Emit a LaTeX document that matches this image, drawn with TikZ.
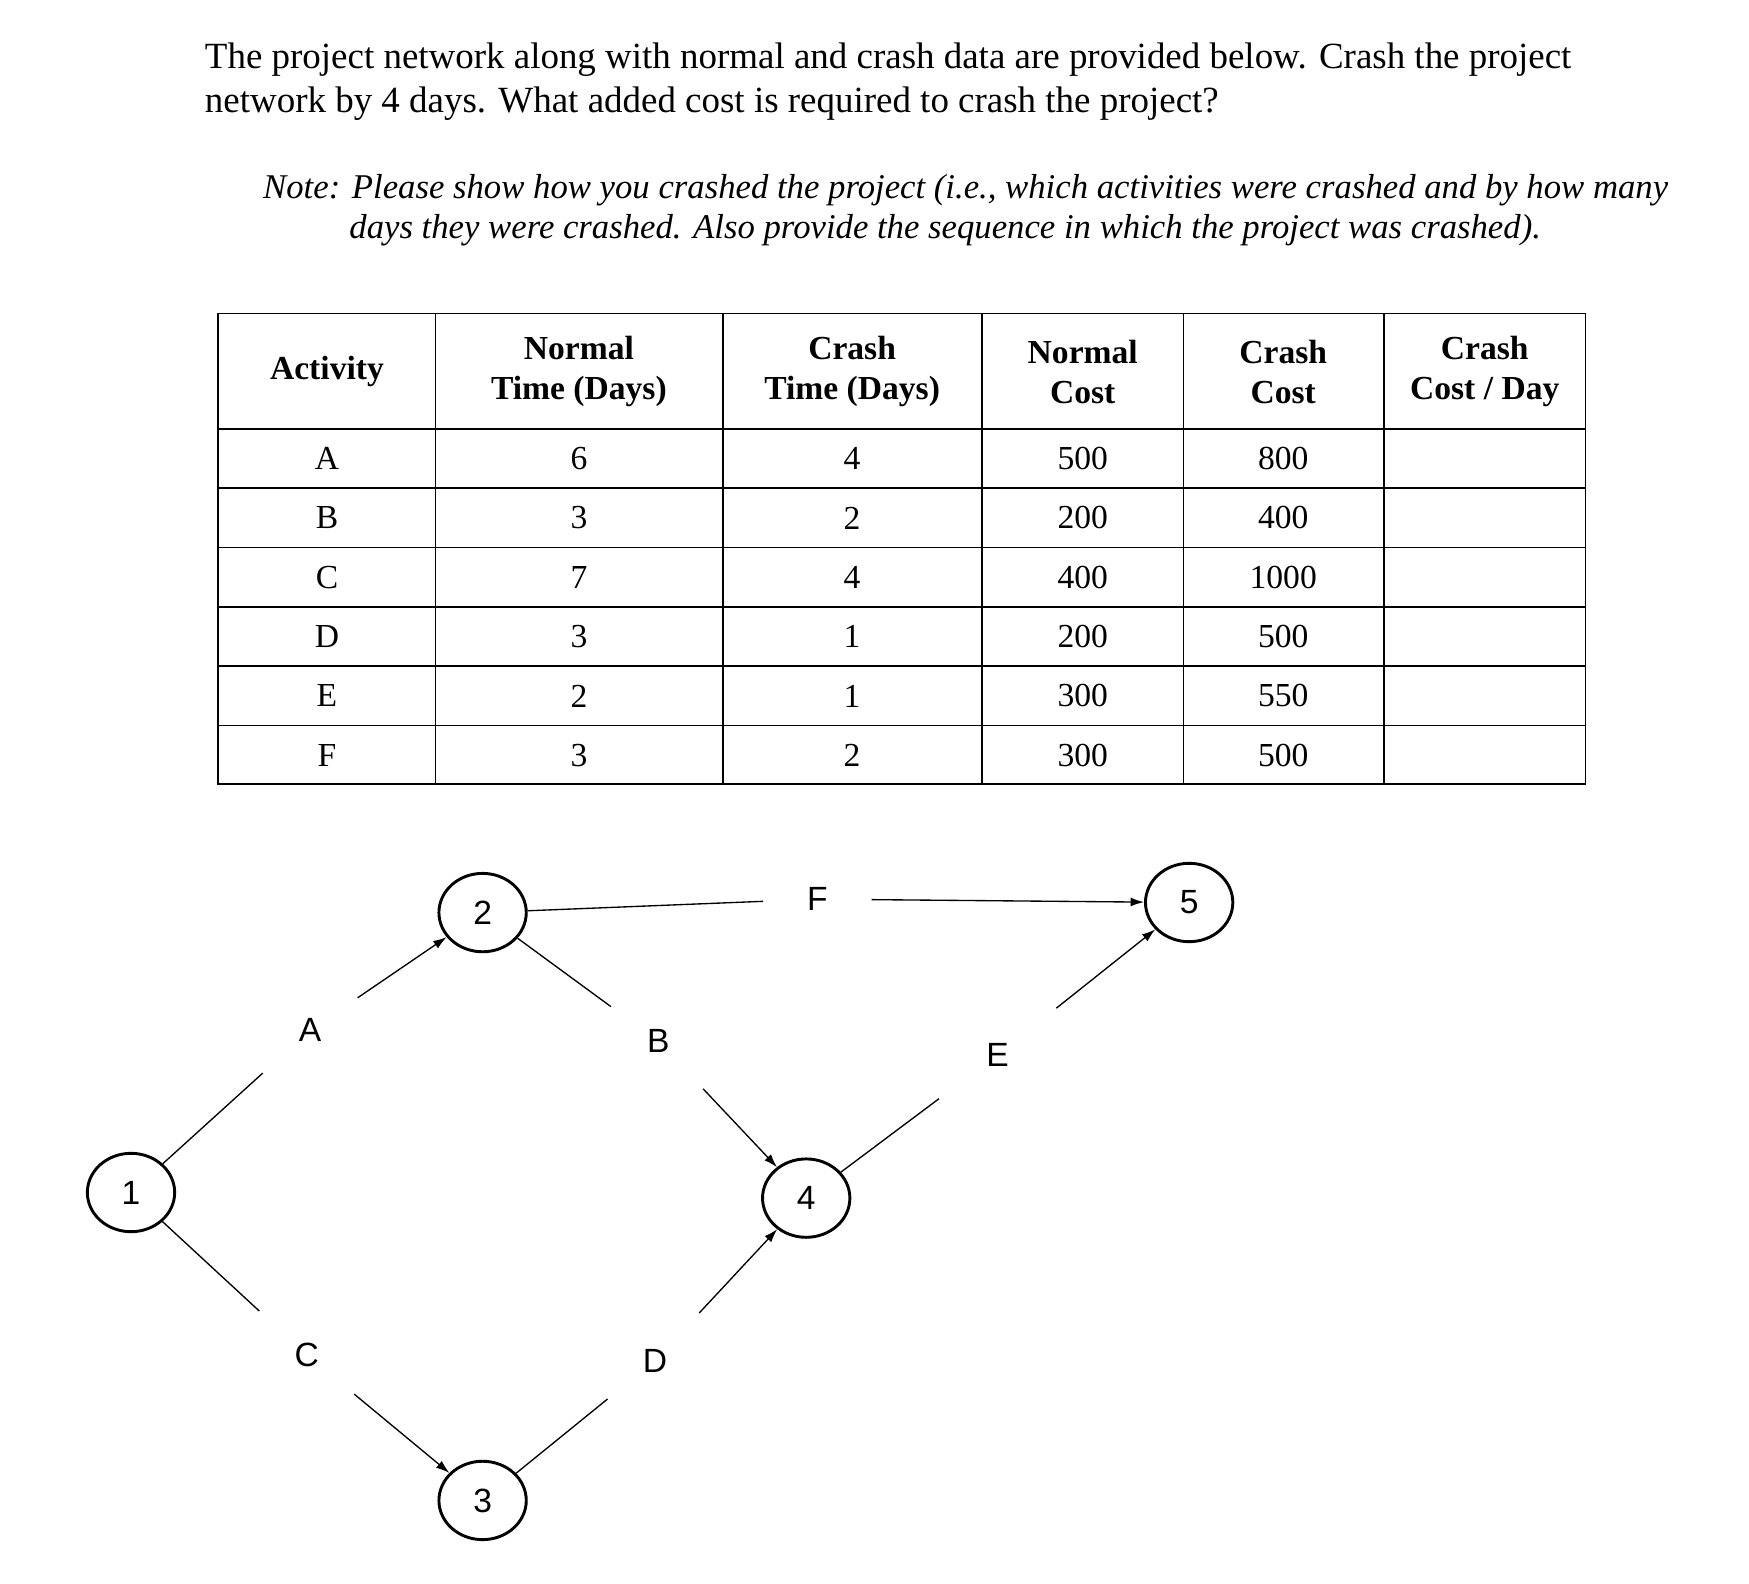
\documentclass[tikz,border=0pt]{standalone}
\usepackage{fontspec}
\setmainfont{Liberation Serif}
\newfontfamily\arial{Liberation Sans}
\usetikzlibrary{arrows.meta,shapes.geometric}
\begin{document}
\begin{tikzpicture}[x=0.5pt,y=-0.5pt,
  ev/.style={draw,line width=1.3pt,ellipse,minimum width=39pt,minimum height=35pt,inner sep=0pt,font=\arial\fontsize{15}{15}\selectfont},
  lab/.style={inner sep=0pt,minimum size=42pt,font=\arial\fontsize{15}{15}\selectfont},
  edge/.style={line width=0.6pt},
  arr/.style={edge,-{Latex[length=6pt,width=4pt]}},
  cell/.style={font=\fontsize{15}{17}\selectfont,align=center}]
\useasboundingbox (0,0) rectangle (1562,1414);
\node[anchor=west,font=\fontsize{16.5}{20}\selectfont] (t1) at (176,53) {The project network along with normal and crash data are provided below. Crash the project};
\node[anchor=west,font=\fontsize{16.5}{20}\selectfont] (t2) at (176,93) {network by 4 days. What added cost is required to crash the project?};
\node[anchor=west,font=\itshape\fontsize{15.5}{19}\selectfont] (n1) at (228,170) {Note: Please show how you crashed the project (i.e., which activities were crashed and by how many};
\node[anchor=west,font=\itshape\fontsize{15.5}{19}\selectfont] (n2) at (305,206) {days they were crashed. Also provide the sequence in which the project was crashed).};
% table
\draw[line width=0.8pt] (195,280) rectangle (1416,700);
\foreach \x in {389,646,877,1057,1236} \draw[line width=0.8pt] (\x,280) -- (\x,700);
\foreach \y in {383,436,489,542,595,648} \draw[line width=0.8pt] (195,\y) -- (1416,\y);
\foreach \t/\x in {{Activity}/292,{Normal\\Time (Days)}/517,{Crash\\Time (Days)}/761,{Normal\\Cost}/967,{Crash\\Cost}/1146,{Crash\\Cost / Day}/1326}
  \node[cell,font=\bfseries\fontsize{15}{18}\selectfont] at (\x,332) {\t};
\foreach \a/\b/\c/\d/\e [count=\i] in {A/6/4/500/800,B/3/2/200/400,C/7/4/400/1000,D/3/1/200/500,E/2/1/300/550,F/3/2/300/500}{
  \pgfmathsetmacro\yy{383+53*\i-26.5}
  \node[cell] at (292,\yy) {\a};
  \node[cell] at (517,\yy) {\b};
  \node[cell] at (761,\yy) {\c};
  \node[cell] at (967,\yy) {\d};
  \node[cell] at (1146,\yy) {\e};
}
% network
\node[ev] (v1) at (117,1065) {1};
\node[ev] (v2) at (431,815) {2};
\node[ev] (v3) at (431,1340) {3};
\node[ev] (v4) at (720,1070) {4};
\node[ev] (v5) at (1062,806) {5};
\node[lab] (A) at (277,920) {A};
\node[lab] (B) at (588,930) {B};
\node[lab] (C) at (274,1210) {C};
\node[lab] (D) at (585,1215) {D};
\node[lab,minimum size=52pt] (E) at (891,942) {E};
\node[lab,minimum width=48pt] (F) at (730,803) {F};
\draw[edge] (v1) -- (A); \draw[arr] (A) -- (v2);
\draw[edge] (v1) -- (C); \draw[arr] (C) -- (v3);
\draw[edge] (v2) -- (B); \draw[arr] (B) -- (v4);
\draw[edge] (v3) -- (D); \draw[arr] (D) -- (v4);
\draw[edge] (v4) -- (E); \draw[arr] (E) -- (v5);
\draw[edge] (v2) -- (F); \draw[arr] (F) -- (v5);
\end{tikzpicture}
\end{document}
